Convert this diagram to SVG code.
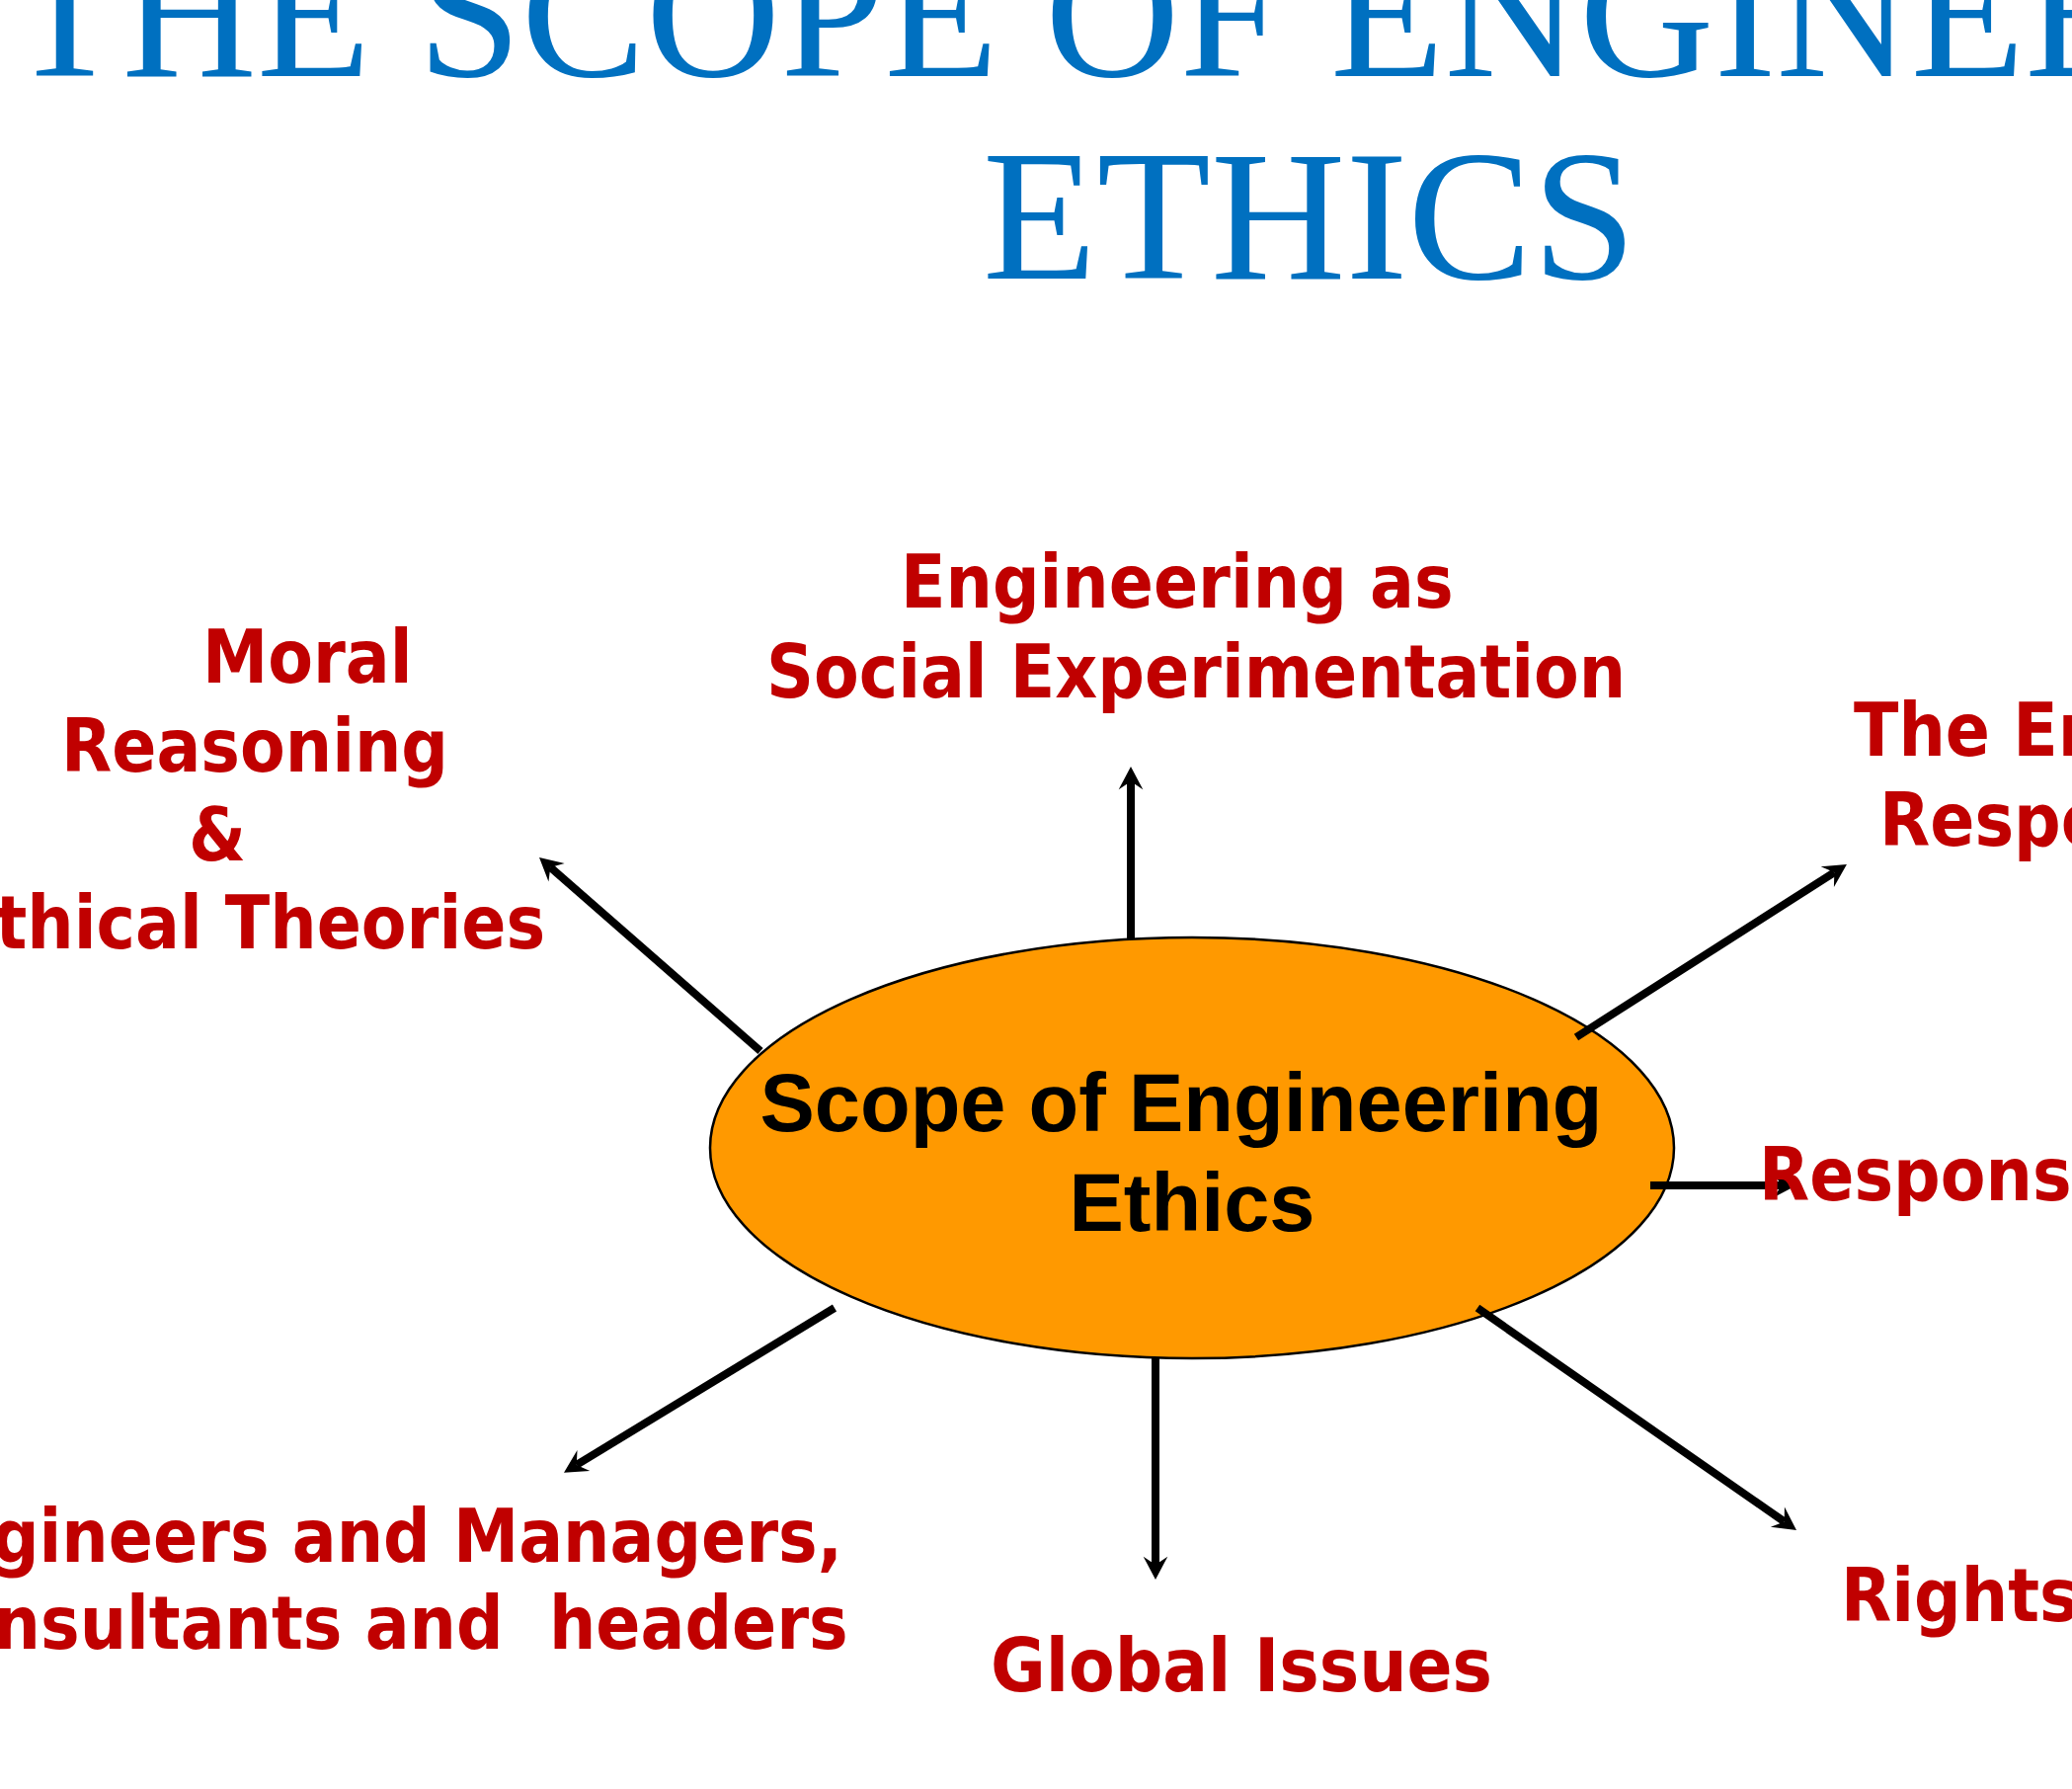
<svg xmlns="http://www.w3.org/2000/svg" width="2098" height="1811" viewBox="0 0 2098 1811">
<style>
.title{font-family:"Liberation Serif","Times New Roman",serif;font-size:189px;fill:#0070C0}
.lbl{font-family:"DejaVu Sans Condensed","DejaVu Sans",sans-serif;font-stretch:condensed;font-weight:bold;font-size:74px;fill:#C00000}
.ctr{font-family:"Liberation Sans",Arial,sans-serif;font-weight:bold;font-size:83px;fill:#000000;text-anchor:middle}
.arr{stroke:#000000;stroke-width:8;fill:none;marker-end:url(#stealth)}
</style>
<defs>
<marker id="stealth" markerUnits="userSpaceOnUse" viewBox="-10 -14 28 28" refX="0" refY="0" markerWidth="28" markerHeight="28" orient="auto">
<path d="M15,0 L-8.3,-12.3 L0,0 L-8.3,12.3 Z" fill="#000000"/>
</marker>
</defs>
<rect x="0" y="0" width="2098" height="1811" fill="#FFFFFF"/>
<g id="title">
<text class="title" x="8" y="77">THE SCOPE OF ENGINEERING</text>
<text class="title" x="995" y="282">ETHICS</text>
</g>
<g id="center-node">
<ellipse cx="1207" cy="1162" rx="488" ry="213" fill="#FF9900" stroke="#000000" stroke-width="2.5"/>
<text class="ctr" x="1196" y="1145">Scope of Engineering</text>
<text class="ctr" x="1207" y="1246">Ethics</text>
</g>
<g id="connectors">
<line class="arr" x1="1145" y1="951" x2="1145" y2="791"/>
<line class="arr" x1="770" y1="1064" x2="557.3" y2="877.9"/>
<line class="arr" x1="1596" y1="1050" x2="1857.3" y2="883.1"/>
<line class="arr" x1="1671" y1="1200" x2="1804" y2="1200"/>
<line class="arr" x1="1496" y1="1324" x2="1806.7" y2="1540.4"/>
<line class="arr" x1="1170" y1="1375" x2="1170" y2="1584"/>
<line class="arr" x1="845" y1="1324" x2="583.8" y2="1482.9"/>
</g>
<g id="node-moral">
<text class="lbl" x="205" y="691">Moral</text>
<text class="lbl" x="62" y="781">Reasoning</text>
<text class="lbl" x="191" y="871">&amp;</text>
<text class="lbl" x="-50" y="960">Ethical Theories</text>
</g>
<g id="node-social">
<text class="lbl" x="912" y="615">Engineering as</text>
<text class="lbl" x="776" y="706">Social Experimentation</text>
</g>
<g id="node-safety">
<text class="lbl" x="1877" y="765">The Engineers</text>
<text class="lbl" x="1903" y="856">Responsibility</text>
</g>
<g id="node-responsibilities">
<text class="lbl" x="1781" y="1215">Responsibilities</text>
</g>
<g id="node-rights">
<text class="lbl" x="1864" y="1641">Rights</text>
</g>
<g id="node-global">
<text class="lbl" x="1003" y="1712" style="font-size:75.5px">Global Issues</text>
</g>
<g id="node-managers">
<text class="lbl" x="-101" y="1581">Engineers and Managers,</text>
<text class="lbl" x="-101" y="1669" xml:space="preserve">Consultants and  headers</text>
</g>
</svg>
